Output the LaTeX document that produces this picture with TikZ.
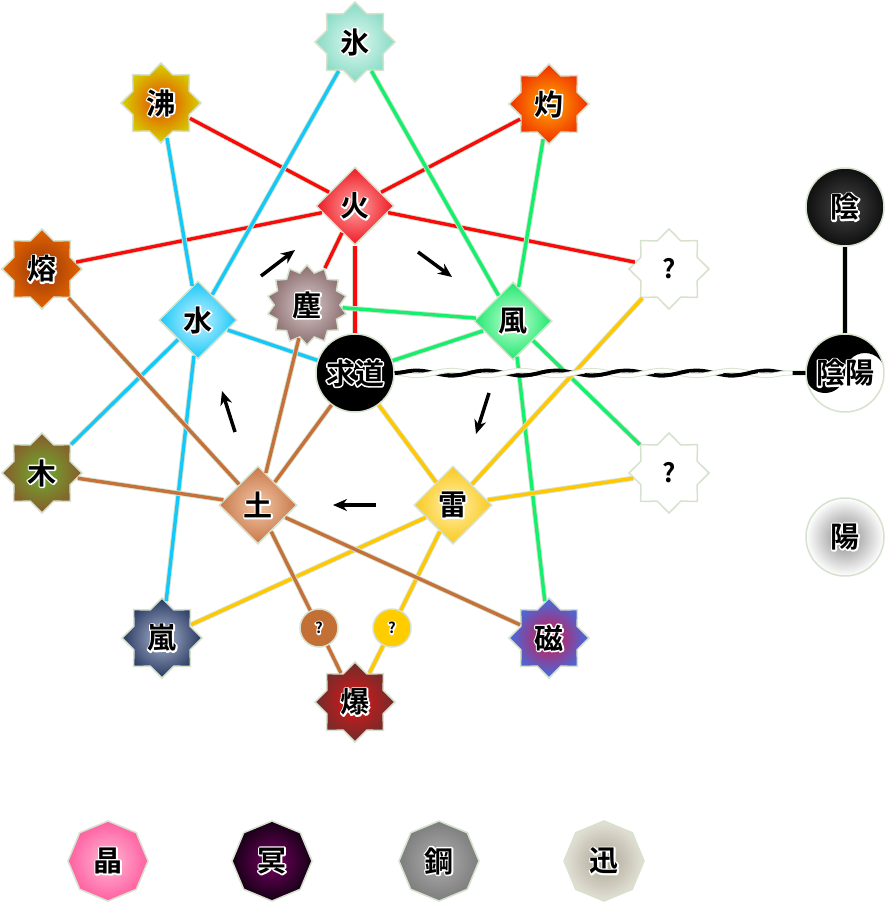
\documentclass[tikz,border=0pt]{standalone}
\usepackage{fontspec}
\newfontfamily\cjk{Noto Sans CJK JP Bold}
\usetikzlibrary{arrows.meta,shapes.geometric,decorations.pathmorphing}
\definecolor{pale}{RGB}{214,226,205}
\definecolor{firec}{RGB}{250,10,10}
\definecolor{waterc}{RGB}{20,200,250}
\definecolor{windc}{RGB}{20,240,110}
\definecolor{boltc}{RGB}{255,200,0}
\definecolor{earthc}{RGB}{198,112,58}
\definecolor{iceIn}{RGB}{225,250,242}   \definecolor{iceOut}{RGB}{135,218,196}
\definecolor{boilIn}{RGB}{228,70,0}     \definecolor{boilOut}{RGB}{215,210,0}
\definecolor{scorIn}{RGB}{255,175,0}    \definecolor{scorOut}{RGB}{240,45,0}
\definecolor{lavaIn}{RGB}{150,55,10}    \definecolor{lavaOut}{RGB}{228,100,0}
\definecolor{fireIn}{RGB}{255,165,165}  \definecolor{fireOut}{RGB}{238,25,35}
\definecolor{watIn}{RGB}{200,242,255}   \definecolor{watOut}{RGB}{25,200,248}
\definecolor{dustIn}{RGB}{218,204,204}  \definecolor{dustOut}{RGB}{140,110,112}
\definecolor{windIn}{RGB}{200,255,215}  \definecolor{windOut}{RGB}{30,232,110}
\definecolor{earIn}{RGB}{242,200,170}   \definecolor{earOut}{RGB}{200,120,72}
\definecolor{thuIn}{RGB}{255,242,175}   \definecolor{thuOut}{RGB}{250,200,30}
\definecolor{woodIn}{RGB}{110,175,45}   \definecolor{woodOut}{RGB}{135,90,45}
\definecolor{stoIn}{RGB}{170,185,210}   \definecolor{stoOut}{RGB}{40,55,95}
\definecolor{magIn}{RGB}{215,20,70}     \definecolor{magOut}{RGB}{65,110,225}
\definecolor{blaIn}{RGB}{225,20,20}     \definecolor{blaOut}{RGB}{110,45,45}
\definecolor{yinIn}{RGB}{70,70,70}      \definecolor{yinOut}{RGB}{15,15,15}
\definecolor{yangIn}{RGB}{135,135,135}
\definecolor{cryIn}{RGB}{255,185,215}   \definecolor{cryOut}{RGB}{255,95,160}
\definecolor{darIn}{RGB}{120,0,100}     \definecolor{darOut}{RGB}{20,0,20}
\definecolor{steIn}{RGB}{175,175,175}   \definecolor{steOut}{RGB}{125,125,125}
\definecolor{swiIn}{RGB}{170,165,148}   \definecolor{swiOut}{RGB}{228,225,215}
\definecolor{qearth}{RGB}{195,112,55}
\definecolor{qbolt}{RGB}{255,204,0}
% black letters with a white rim
\newcommand{\kj}[1]{\rlap{\special{pdf:literal direct 1 Tr 3 w 1 1 1 RG 1 j}#1\special{pdf:literal direct 0 Tr}}#1}

\begin{document}
\begin{tikzpicture}[x=1pt, y=1pt, >={Stealth[length=14pt,width=12pt]},
    base/.style={draw=pale, line width=1.5pt, inner sep=1pt, font=\cjk\fontsize{29}{29}\selectfont},
    star8/.style={base, star, star points=8, star point ratio=1.31, minimum size=80pt},
    burst/.style={base, star, star points=14, star point ratio=1.22, minimum size=80pt},
    gem/.style={base, diamond, minimum width=78pt, minimum height=78pt},
    orb/.style={base, circle, minimum size=78pt},
    oct/.style={base, regular polygon, regular polygon sides=8, shape border rotate=22.5, minimum size=80pt},
    qstar/.style={star8, fill=white, font=\cjk\fontsize{26}{26}\selectfont},
    qdot/.style={base, circle, minimum size=38pt, inner sep=0pt, font=\cjk\fontsize{15}{15}\selectfont},
    yy/.style={orb, fill=white, path picture={\fill[black] ([xshift=-40pt]path picture bounding box.center) arc[start angle=180, end angle=0, radius=40pt] arc[start angle=0, end angle=180, radius=20pt] arc[start angle=0, end angle=-180, radius=20pt] -- cycle;}},
    link/.style={draw=pale, line width=0.9pt, double=#1, double distance=3.4pt},
    turn/.style={->, line width=3.5pt}]
  \fill[white] (0,0) rectangle (886,-902);

  % outer ring
  \node[star8, inner color=iceIn, outer color=iceOut]   (Ice)    at (355,-42)  {\kj{氷}};
  \node[star8, inner color=boilIn, outer color=boilOut] (Boil)   at (161,-103) {\kj{沸}};
  \node[star8, inner color=scorIn, outer color=scorOut] (Scorch) at (549,-104) {\kj{灼}};
  \node[star8, inner color=lavaIn, outer color=lavaOut] (Lava)   at (42,-269)  {\kj{熔}};
  \node[qstar]                                          (QTop)   at (669,-269) {?};
  \node[star8, inner color=woodIn, outer color=woodOut] (Wood)   at (42,-473)  {\kj{木}};
  \node[qstar]                                          (QLow)   at (669,-473) {?};
  \node[star8, inner color=stoIn, outer color=stoOut]   (Storm)  at (162,-638) {\kj{嵐}};
  \node[star8, inner color=magIn, outer color=magOut]   (Magnet) at (549,-638) {\kj{磁}};
  \node[star8, inner color=blaIn, outer color=blaOut]   (Blast)  at (355,-702) {\kj{爆}};
  \node[qdot, fill=qearth]                              (QEarth)   at (319,-628) {\kj{?}};
  \node[qdot, fill=qbolt]                               (QThunder) at (392,-628) {\kj{?}};

  % five elements
  \node[gem, inner color=fireIn, outer color=fireOut]   (Fire)    at (355,-206) {\kj{火}};
  \node[gem, inner color=watIn, outer color=watOut]     (Water)   at (198,-320) {\kj{水}};
  \node[gem, inner color=windIn, outer color=windOut]   (Wind)    at (513,-321) {\kj{風}};
  \node[gem, inner color=earIn, outer color=earOut]     (Earth)   at (258,-505) {\kj{土}};
  \node[gem, inner color=thuIn, outer color=thuOut]     (Thunder) at (453,-505) {\kj{雷}};
  \node[burst, inner color=dustIn, outer color=dustOut] (Dust)    at (307,-305) {\kj{塵}};
  \node[orb, fill=black]                                (Seek)    at (355,-373) {\kj{求道}};

  % yin and yang
  \node[orb, inner color=yinIn, outer color=yinOut]     (Yin)     at (845,-207) {\kj{陰}};
  \node[yy]                                             (YinYang) at (845,-373) {\kj{陰陽}};
  \node[orb, inner color=yangIn, outer color=white]     (Yang)    at (845,-537) {\kj{陽}};

  % bottom row
  \node[oct, inner color=cryIn, outer color=cryOut]     (Crystal) at (108,-861) {\kj{晶}};
  \node[oct, inner color=darIn, outer color=darOut]     (Dark)    at (272,-861) {\kj{冥}};
  \node[oct, inner color=steIn, outer color=steOut]     (Steel)   at (439,-861) {\kj{鋼}};
  \node[oct, inner color=swiIn, outer color=swiOut]     (Swift)   at (604,-861) {\kj{迅}};

  \path[every edge/.style={link=firec}]  (Fire) edge (Boil) edge (Scorch) edge (Lava) edge (QTop) edge (Dust) edge (Seek);
  \path[every edge/.style={link=waterc}] (Water) edge (Ice) edge (Wood) edge (Boil) edge (Storm) edge (Seek);
  \path[every edge/.style={link=windc}]  (Wind) edge (Ice) edge (Scorch) edge (Dust) edge (Seek) edge (QLow) edge (Magnet);
  \path[every edge/.style={link=boltc}]  (Thunder) edge (Seek) edge (QTop) edge (QLow) edge (Storm) edge (QThunder)
                     (QThunder) edge (Blast);
  \path[every edge/.style={link=earthc}] (Earth) edge (Lava) edge (Dust) edge (Seek) edge (Wood) edge (Magnet) edge (QEarth)
                     (QEarth) edge (Blast);
  \path[every edge/.style={link=black}]  (Yin) edge (YinYang);

  % twisted rope
  \path[draw=black, line width=3.8pt, decorate, decoration={snake, amplitude=2.5pt, segment length=70pt}] (Seek) -- (YinYang);
  \path[link=white, decorate, decoration={snake, amplitude=2.5pt, segment length=70pt, mirror}] (Seek) -- (YinYang);
  \path[draw=black, line width=3.8pt, dash pattern=on 35pt off 35pt, dash phase=17.5pt, decorate, decoration={snake, amplitude=2.5pt, segment length=70pt}] (Seek) -- (YinYang);

  \foreach \xa/\ya/\xb/\yb in {261/-276/295/-250, 418/-252/452/-277, 489/-393/476/-434, 376/-505/333/-505, 235/-432/222/-391}
    \draw[turn] (\xa,\ya) -- (\xb,\yb);
\end{tikzpicture}
\end{document}
